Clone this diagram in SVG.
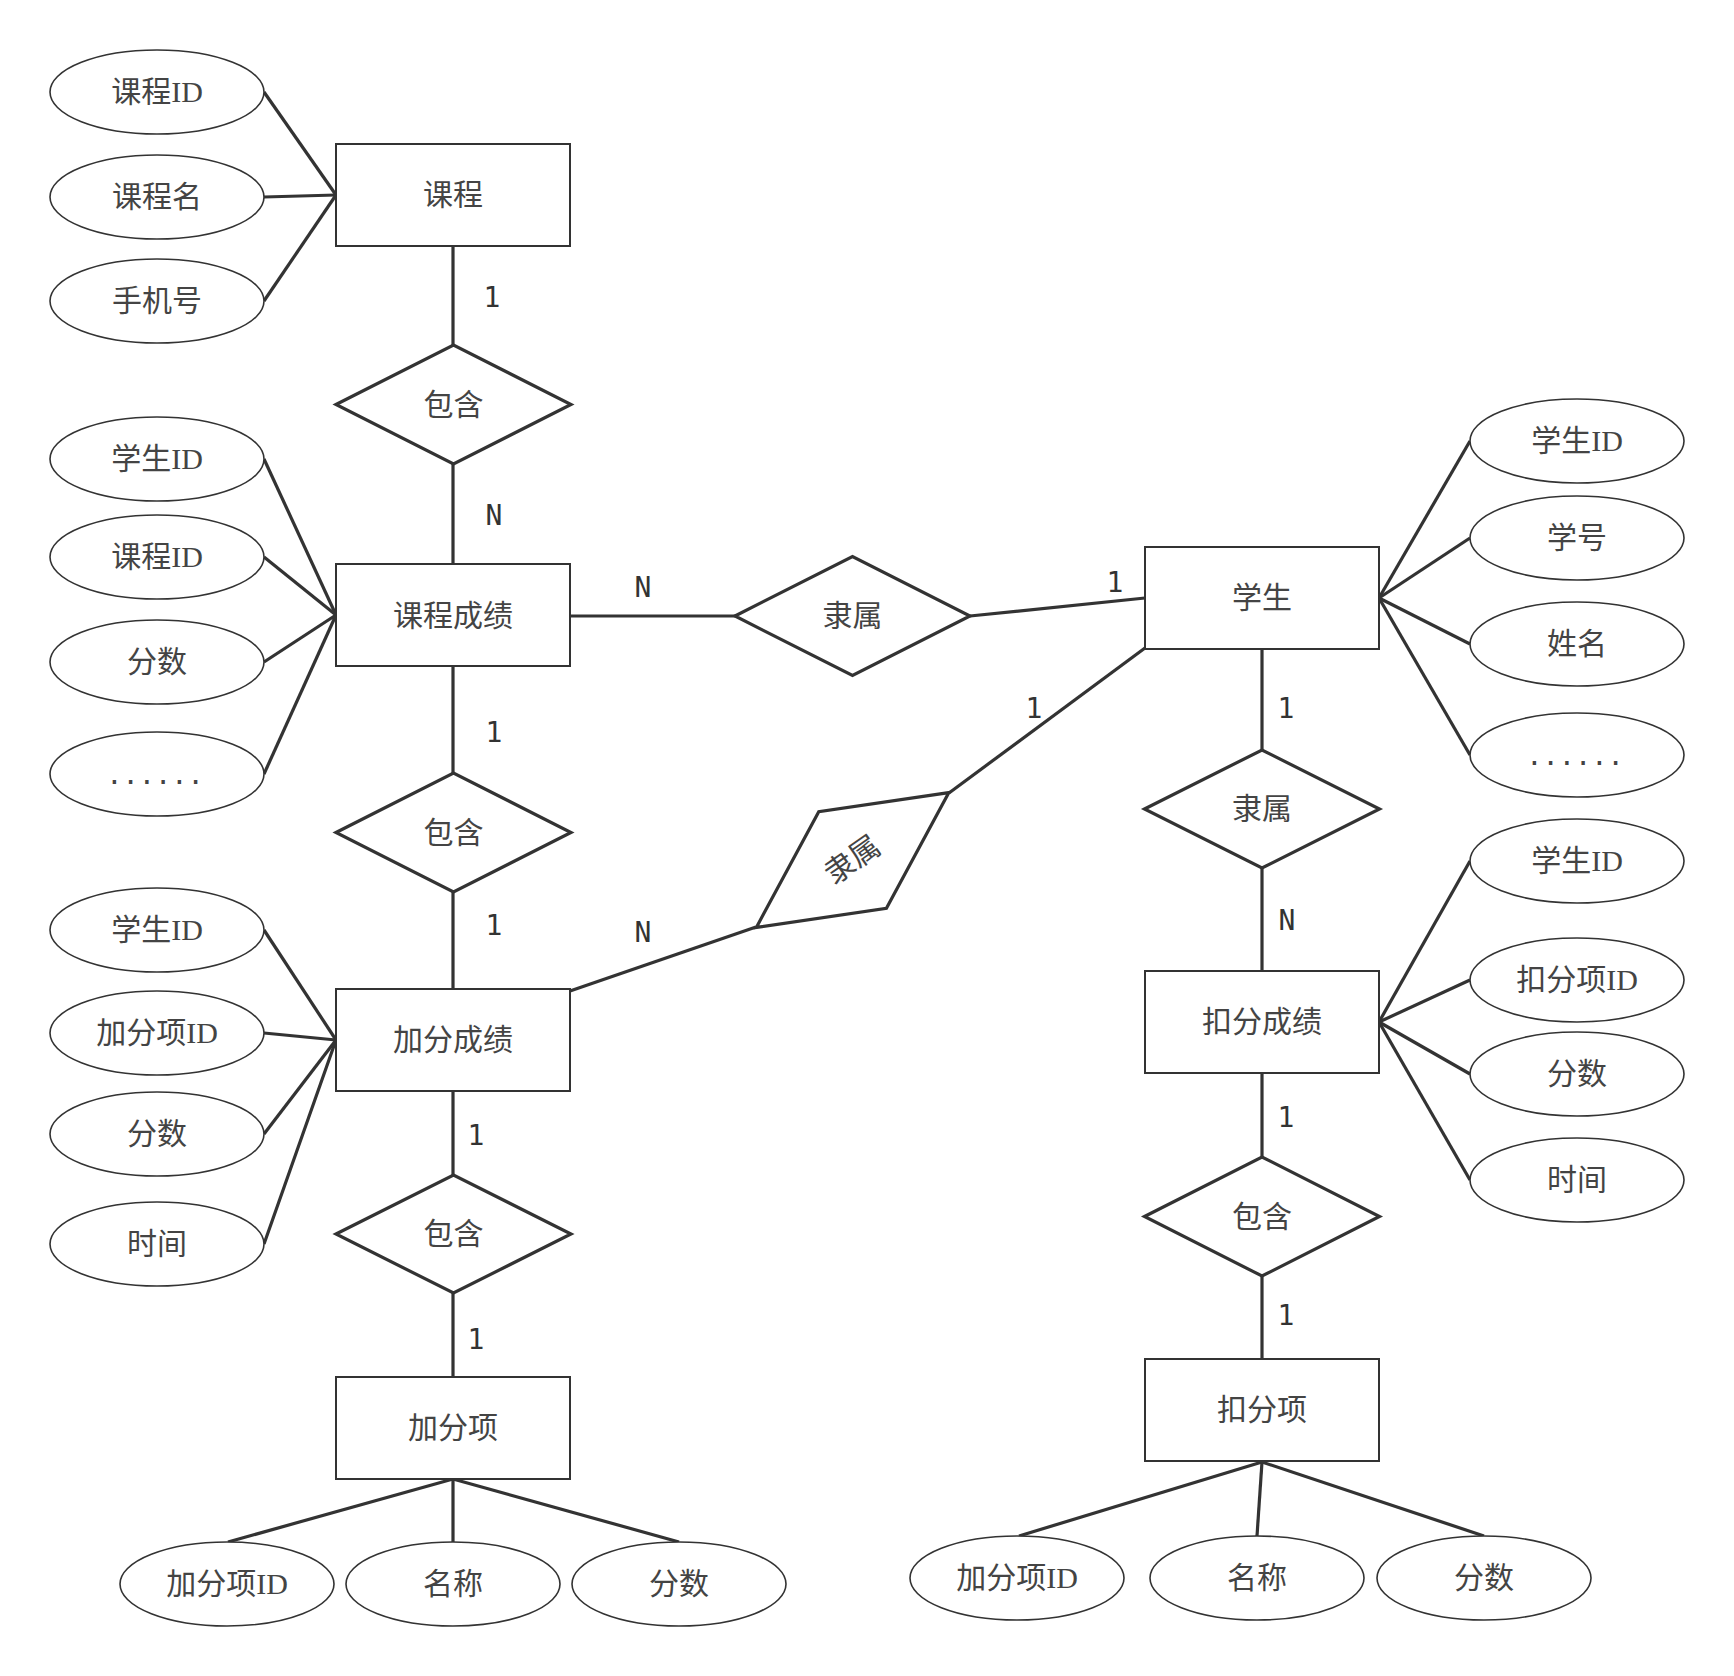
<svg xmlns="http://www.w3.org/2000/svg" width="1734" height="1676" viewBox="0 0 1734 1676">
<style>
.bg{fill:#fff}
.ent{fill:#fff;stroke:#333;stroke-width:2}
.att{fill:#fff;stroke:#333;stroke-width:1.6}
.rel{fill:#fff;stroke:#333;stroke-width:3.2;stroke-linejoin:miter}
.ln{stroke:#333;stroke-width:3.2;fill:none}
.t{font-family:"Liberation Serif","Noto Sans CJK SC",serif;font-size:30px;fill:#444;text-anchor:middle}
.c{font-family:"DejaVu Sans Mono",monospace;font-size:28px;fill:#333;text-anchor:middle}
.dots{font-family:"DejaVu Sans Mono",monospace;font-size:27px;fill:#444;text-anchor:middle}
</style>
<rect class="bg" x="0" y="0" width="1734" height="1676"/>

<g id="connectors">
<!-- left column attribute lines -->
<line class="ln" x1="264" y1="92" x2="336" y2="195"/>
<line class="ln" x1="264" y1="197" x2="336" y2="195"/>
<line class="ln" x1="264" y1="301" x2="336" y2="195"/>
<line class="ln" x1="264" y1="459" x2="336" y2="615"/>
<line class="ln" x1="264" y1="557" x2="336" y2="615"/>
<line class="ln" x1="264" y1="662" x2="336" y2="615"/>
<line class="ln" x1="264" y1="774" x2="336" y2="615"/>
<line class="ln" x1="264" y1="930" x2="336" y2="1040"/>
<line class="ln" x1="264" y1="1033" x2="336" y2="1040"/>
<line class="ln" x1="264" y1="1134" x2="336" y2="1040"/>
<line class="ln" x1="264" y1="1244" x2="336" y2="1040"/>
<!-- left column vertical -->
<line class="ln" x1="453" y1="246" x2="453" y2="345"/>
<line class="ln" x1="453" y1="464" x2="453" y2="564"/>
<line class="ln" x1="453" y1="667" x2="453" y2="773"/>
<line class="ln" x1="453" y1="892" x2="453" y2="989"/>
<line class="ln" x1="453" y1="1091" x2="453" y2="1175"/>
<line class="ln" x1="453" y1="1293" x2="453" y2="1377"/>
<!-- 加分项 attributes -->
<line class="ln" x1="453" y1="1479" x2="228" y2="1542"/>
<line class="ln" x1="453" y1="1479" x2="453" y2="1542"/>
<line class="ln" x1="453" y1="1479" x2="679" y2="1542"/>
<!-- middle relations -->
<line class="ln" x1="570" y1="616" x2="735" y2="616"/>
<line class="ln" x1="970" y1="616" x2="1145" y2="598"/>
<line class="ln" x1="1145" y1="648" x2="949" y2="793"/>
<line class="ln" x1="570" y1="991" x2="756" y2="927"/>
<!-- right column vertical -->
<line class="ln" x1="1262" y1="649" x2="1262" y2="750"/>
<line class="ln" x1="1262" y1="868" x2="1262" y2="971"/>
<line class="ln" x1="1262" y1="1073" x2="1262" y2="1157"/>
<line class="ln" x1="1262" y1="1276" x2="1262" y2="1359"/>
<!-- right attribute lines -->
<line class="ln" x1="1379" y1="598" x2="1470" y2="441"/>
<line class="ln" x1="1379" y1="598" x2="1470" y2="538"/>
<line class="ln" x1="1379" y1="598" x2="1470" y2="644"/>
<line class="ln" x1="1379" y1="598" x2="1470" y2="755"/>
<line class="ln" x1="1379" y1="1022" x2="1470" y2="861"/>
<line class="ln" x1="1379" y1="1022" x2="1470" y2="980"/>
<line class="ln" x1="1379" y1="1022" x2="1470" y2="1074"/>
<line class="ln" x1="1379" y1="1022" x2="1470" y2="1180"/>
<!-- 扣分项 attributes -->
<line class="ln" x1="1262" y1="1462" x2="1019" y2="1536"/>
<line class="ln" x1="1262" y1="1462" x2="1257" y2="1536"/>
<line class="ln" x1="1262" y1="1462" x2="1484" y2="1536"/>
<!-- cardinality labels -->
<text class="c" x="492" y="307">1</text>
<text class="c" x="494" y="525">N</text>
<text class="c" x="494" y="742">1</text>
<text class="c" x="494" y="935">1</text>
<text class="c" x="476" y="1145">1</text>
<text class="c" x="476" y="1349">1</text>
<text class="c" x="643" y="597">N</text>
<text class="c" x="1115" y="592">1</text>
<text class="c" x="1034" y="718">1</text>
<text class="c" x="643" y="942">N</text>
<text class="c" x="1286" y="718">1</text>
<text class="c" x="1287" y="930">N</text>
<text class="c" x="1286" y="1127">1</text>
<text class="c" x="1286" y="1325">1</text>
</g>

<!-- left attributes of 课程 -->
<g id="attr-kc-id"><ellipse class="att" cx="157" cy="92" rx="107" ry="42"/><text class="t" x="157" y="102">课程ID</text></g>
<g id="attr-kc-name"><ellipse class="att" cx="157" cy="197" rx="107" ry="42"/><text class="t" x="157" y="207">课程名</text></g>
<g id="attr-kc-phone"><ellipse class="att" cx="157" cy="301" rx="107" ry="42"/><text class="t" x="157" y="311">手机号</text></g>

<g id="ent-course"><rect class="ent" x="336" y="144" width="234" height="102"/><text class="t" x="453" y="205">课程</text></g>
<g id="rel-contain1"><polygon class="rel" points="336,404.5 453.5,345 571,404.5 453.5,464"/><text class="t" x="453.5" y="415">包含</text></g>

<g id="attr-cj-sid"><ellipse class="att" cx="157" cy="459" rx="107" ry="42"/><text class="t" x="157" y="469">学生ID</text></g>
<g id="attr-cj-cid"><ellipse class="att" cx="157" cy="557" rx="107" ry="42"/><text class="t" x="157" y="567">课程ID</text></g>
<g id="attr-cj-score"><ellipse class="att" cx="157" cy="662" rx="107" ry="42"/><text class="t" x="157" y="672">分数</text></g>
<g id="attr-cj-more"><ellipse class="att" cx="157" cy="774" rx="107" ry="42"/><text class="dots" x="155" y="784">......</text></g>

<g id="ent-course-score"><rect class="ent" x="336" y="564" width="234" height="102"/><text class="t" x="453" y="626">课程成绩</text></g>
<g id="rel-contain2"><polygon class="rel" points="336,832.5 453.5,773 571,832.5 453.5,892"/><text class="t" x="453.5" y="843">包含</text></g>

<g id="attr-jf-sid"><ellipse class="att" cx="157" cy="930" rx="107" ry="42"/><text class="t" x="157" y="940">学生ID</text></g>
<g id="attr-jf-iid"><ellipse class="att" cx="157" cy="1033" rx="107" ry="42"/><text class="t" x="157" y="1043">加分项ID</text></g>
<g id="attr-jf-score"><ellipse class="att" cx="157" cy="1134" rx="107" ry="42"/><text class="t" x="157" y="1144">分数</text></g>
<g id="attr-jf-time"><ellipse class="att" cx="157" cy="1244" rx="107" ry="42"/><text class="t" x="157" y="1254">时间</text></g>

<g id="ent-bonus-score"><rect class="ent" x="336" y="989" width="234" height="102"/><text class="t" x="453" y="1050">加分成绩</text></g>
<g id="rel-contain3"><polygon class="rel" points="336,1234 453.5,1175 571,1234 453.5,1293"/><text class="t" x="453.5" y="1244">包含</text></g>

<g id="ent-bonus-item"><rect class="ent" x="336" y="1377" width="234" height="102"/><text class="t" x="453" y="1438">加分项</text></g>
<g id="attr-bi-id"><ellipse class="att" cx="227" cy="1584" rx="107" ry="42"/><text class="t" x="227" y="1594">加分项ID</text></g>
<g id="attr-bi-name"><ellipse class="att" cx="453" cy="1584" rx="107" ry="42"/><text class="t" x="453" y="1594">名称</text></g>
<g id="attr-bi-score"><ellipse class="att" cx="679" cy="1584" rx="107" ry="42"/><text class="t" x="679" y="1594">分数</text></g>

<g id="rel-belong1"><polygon class="rel" points="735,616 852.5,556.5 970,616 852.5,675.5"/><text class="t" x="852.5" y="626">隶属</text></g>
<g id="rel-belong2" transform="translate(852.6,860) rotate(-35)"><polygon class="rel" points="-117.5,0 0,-59 117.5,0 0,59"/><text class="t" x="0" y="10">隶属</text></g>

<g id="ent-student"><rect class="ent" x="1145" y="547" width="234" height="102"/><text class="t" x="1262" y="608">学生</text></g>
<g id="attr-st-id"><ellipse class="att" cx="1577" cy="441" rx="107" ry="42"/><text class="t" x="1577" y="451">学生ID</text></g>
<g id="attr-st-no"><ellipse class="att" cx="1577" cy="538" rx="107" ry="42"/><text class="t" x="1577" y="548">学号</text></g>
<g id="attr-st-name"><ellipse class="att" cx="1577" cy="644" rx="107" ry="42"/><text class="t" x="1577" y="654">姓名</text></g>
<g id="attr-st-more"><ellipse class="att" cx="1577" cy="755" rx="107" ry="42"/><text class="dots" x="1575" y="765">......</text></g>

<g id="rel-belong3"><polygon class="rel" points="1144.5,809 1262,750 1379.5,809 1262,868"/><text class="t" x="1262" y="819">隶属</text></g>

<g id="ent-deduct-score"><rect class="ent" x="1145" y="971" width="234" height="102"/><text class="t" x="1262" y="1032">扣分成绩</text></g>
<g id="attr-kf-sid"><ellipse class="att" cx="1577" cy="861" rx="107" ry="42"/><text class="t" x="1577" y="871">学生ID</text></g>
<g id="attr-kf-iid"><ellipse class="att" cx="1577" cy="980" rx="107" ry="42"/><text class="t" x="1577" y="990">扣分项ID</text></g>
<g id="attr-kf-score"><ellipse class="att" cx="1577" cy="1074" rx="107" ry="42"/><text class="t" x="1577" y="1084">分数</text></g>
<g id="attr-kf-time"><ellipse class="att" cx="1577" cy="1180" rx="107" ry="42"/><text class="t" x="1577" y="1190">时间</text></g>

<g id="rel-contain4"><polygon class="rel" points="1144.5,1216.5 1262,1157 1379.5,1216.5 1262,1276"/><text class="t" x="1262" y="1227">包含</text></g>

<g id="ent-deduct-item"><rect class="ent" x="1145" y="1359" width="234" height="102"/><text class="t" x="1262" y="1420">扣分项</text></g>
<g id="attr-di-id"><ellipse class="att" cx="1017" cy="1578" rx="107" ry="42"/><text class="t" x="1017" y="1588">加分项ID</text></g>
<g id="attr-di-name"><ellipse class="att" cx="1257" cy="1578" rx="107" ry="42"/><text class="t" x="1257" y="1588">名称</text></g>
<g id="attr-di-score"><ellipse class="att" cx="1484" cy="1578" rx="107" ry="42"/><text class="t" x="1484" y="1588">分数</text></g>
</svg>
